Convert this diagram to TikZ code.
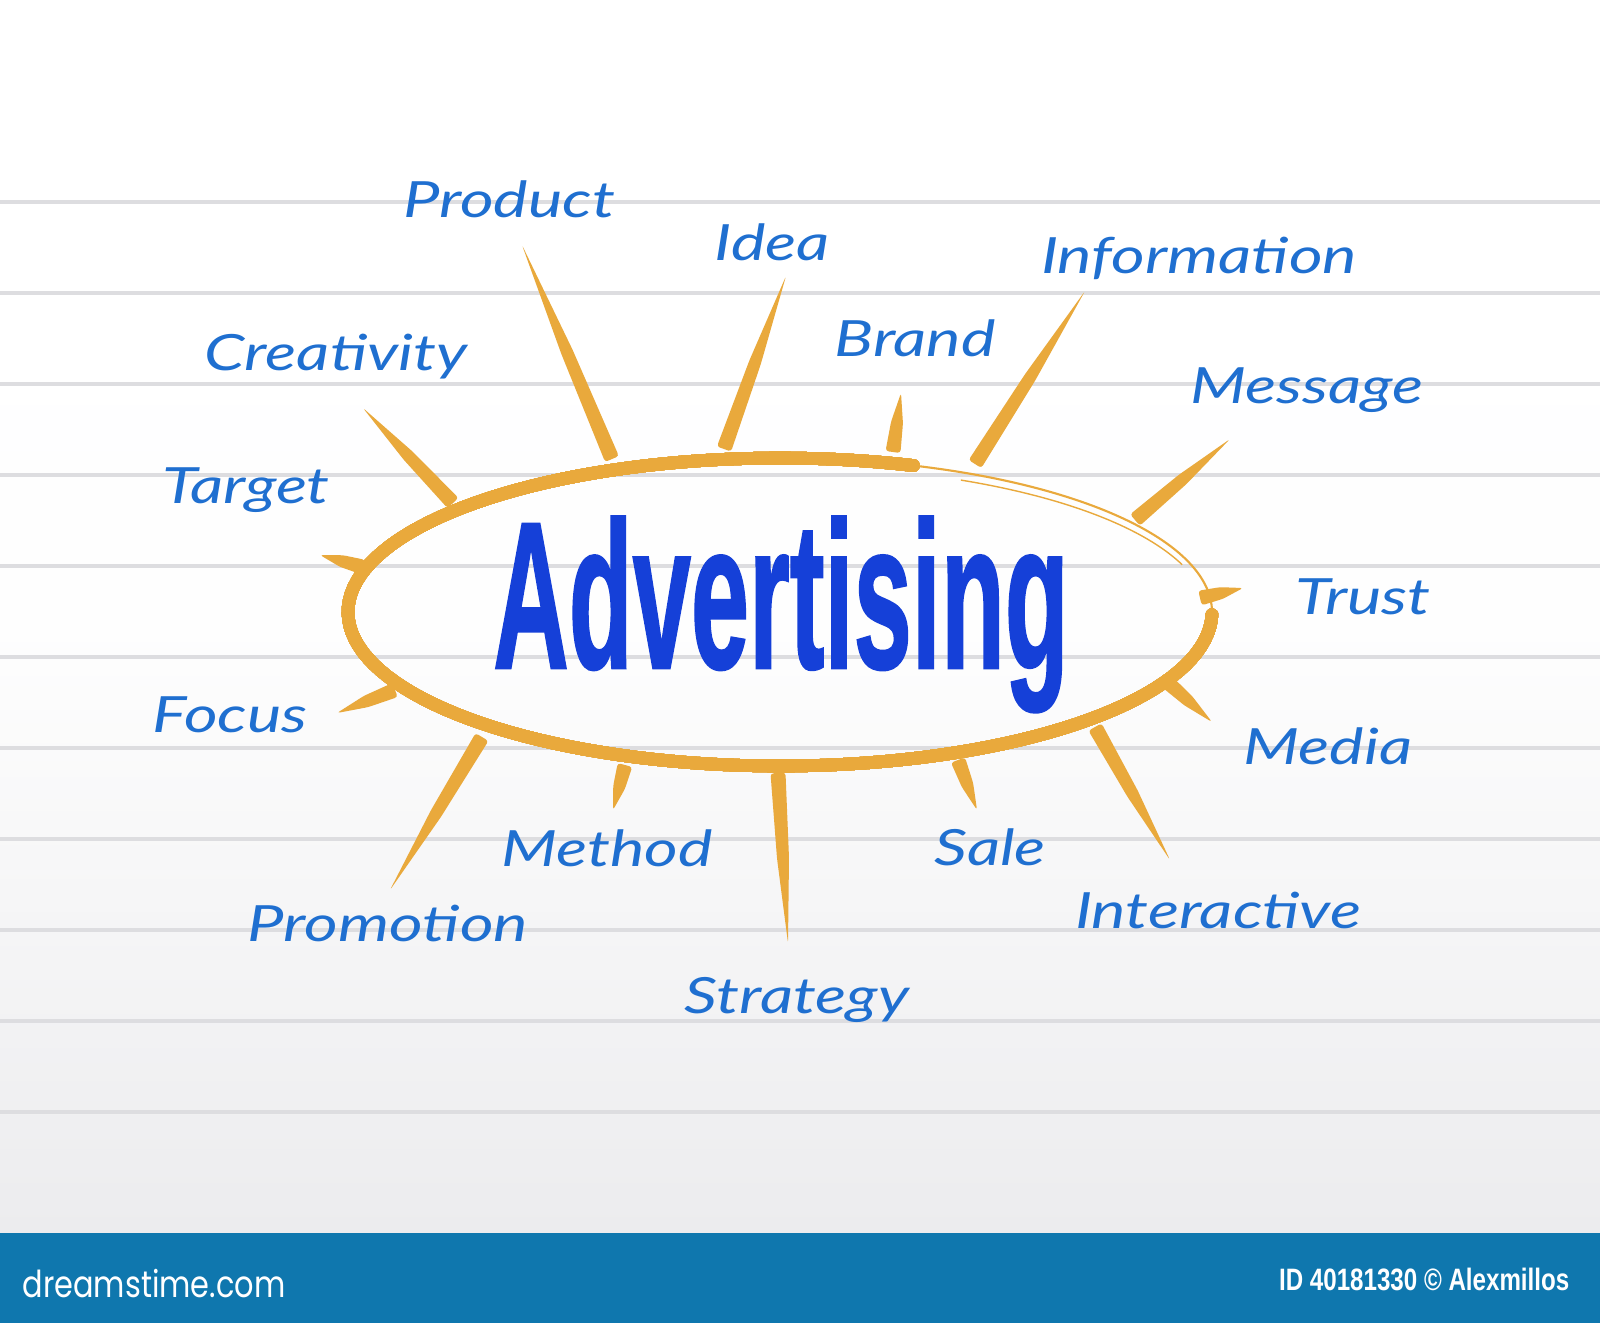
\documentclass[tikz,border=0pt]{standalone}
\usepackage{fontspec}
\usepackage{graphicx}
\usetikzlibrary{calc}
\setmainfont{Liberation Sans}
\newfontfamily\handfont{Lato}
\newfontfamily\advfont{Liberation Sans Bold}[FakeBold=1.3]
\newfontfamily\logofont{Poppins}
\definecolor{raycol}{HTML}{E9A93C}
\definecolor{labblue}{HTML}{1F6FD0}
\definecolor{advblue}{HTML}{1540D8}
\definecolor{barblue}{HTML}{0F77AE}
\definecolor{rulegray}{HTML}{DDDDE0}
\definecolor{bggray}{HTML}{ECECEE}
\newcommand\brush[2]{%
  \coordinate (bm) at ($(#1)!0.5!(#2)$);
  \fill[raycol, rounded corners=0.03cm]
    (#1) -- ($(bm)!0.06cm!90:(#1)$) -- ($(#2)!0.075cm!90:(#1)$)
    -- ($(#2)!0.075cm!-90:(#1)$) -- ($(bm)!0.06cm!-90:(#1)$) -- cycle;
}
\newcommand\hw[1]{\scalebox{1.3}[1]{#1}}
\begin{document}
\begin{tikzpicture}[x=0.01cm,y=-0.01cm,
  lab/.style={text=labblue, font=\handfont\itshape\fontsize{14.2pt}{17pt}\selectfont, inner sep=0pt},
  rulestyle/.style={draw=rulegray, line width=1.4pt}]
\useasboundingbox (0,0) rectangle (1600,1323);
\shade[top color=white, bottom color=bggray, middle color=white!96!bggray] (0,0) rectangle (1600,1233);
\foreach \yy in {202,293,384,475,566,657,748,839,930,1021,1112}
  \draw[rulestyle] (0,\yy) -- (1600,\yy);
% ray end points
\coordinate (rPo) at (522,245);  \coordinate (rPi) at (612,459);
\coordinate (rIo) at (786,276);  \coordinate (rIi) at (724,449);
\coordinate (rBo) at (901,393);  \coordinate (rBi) at (893,452);
\coordinate (rNo) at (1085,291); \coordinate (rNi) at (975,464);
\coordinate (rMo) at (1230,439); \coordinate (rMi) at (1135,520);
\coordinate (rCo) at (363,408);  \coordinate (rCi) at (453,503);
\coordinate (rTo) at (320,555);  \coordinate (rTi) at (363,567);
\coordinate (rUo) at (1243,588); \coordinate (rUi) at (1200,598);
\coordinate (rFo) at (337,713);  \coordinate (rFi) at (395,690);
\coordinate (rDo) at (1212,722); \coordinate (rDi) at (1165,680);
\coordinate (rRo) at (390,890);  \coordinate (rRi) at (482,737);
\coordinate (rEo) at (613,810);  \coordinate (rEi) at (625,765);
\coordinate (rSo) at (788,943);  \coordinate (rSi) at (778,773);
\coordinate (rAo) at (977,810);  \coordinate (rAi) at (958,760);
\coordinate (rXo) at (1170,860); \coordinate (rXi) at (1095,727);
\foreach \r in {P,I,B,N,M,C,T,U,F,D,R,E,S,A,X}
  \brush{r\r o}{r\r i}
% ellipse
\draw[raycol, line width=3.6pt, line cap=round]
  plot[domain=72:359, samples=120] ({780+432*cos(\x)}, {612-154*sin(\x)});
\draw[raycol, line width=0.6pt]
  plot[domain=-1:72, samples=60] ({780+432*cos(\x)}, {612-154*sin(\x)});
\draw[raycol, line width=0.4pt]
  plot[domain=20:65, samples=40] ({780+428*cos(\x)}, {616-150*sin(\x)});
% central word
\node[text=advblue, inner sep=0pt, anchor=base] (adv) at (781,668)
  {\scalebox{0.5}[1]{\advfont\fontsize{59.5pt}{60pt}\selectfont Advertising}};
% labels
\node[lab] (product) at (509,199) {\hw{Product}};
\node[lab] (idea) at (772,242) {\hw{Idea}};
\node[lab] (information) at (1199,258) {\hw{Information}};
\node[lab] (brand) at (915,338) {\hw{Brand}};
\node[lab] (creativity) at (336,357) {\hw{Creativity}};
\node[lab] (message) at (1307,390) {\hw{Message}};
\node[lab] (target) at (246,490) {\hw{Target}};
\node[lab] (trust) at (1363,597) {\hw{Trust}};
\node[lab] (focus) at (230,715) {\hw{Focus}};
\node[lab] (media) at (1328,746) {\hw{Media}};
\node[lab] (method) at (607,848) {\hw{Method}};
\node[lab] (sale) at (990,847) {\hw{Sale}};
\node[lab] (interactive) at (1218,910) {\hw{Interactive}};
\node[lab] (promotion) at (388,923) {\hw{Promotion}};
\node[lab] (strategy) at (797,1000) {\hw{Strategy}};
% bottom bar
\fill[barblue] (0,1233) rectangle (1600,1323);
\node[text=white, anchor=west, inner sep=0pt] (logo) at (22,1284)
  {\scalebox{0.9}[1.1]{\logofont\fontsize{9.6pt}{12pt}\selectfont dreamstime.com}};
\node[text=white, anchor=east, inner sep=0pt] (credit) at (1570,1279)
  {\scalebox{0.78}[1]{\bfseries\fontsize{8.8pt}{10pt}\selectfont ID 40181330 © Alexmillos}};
\end{tikzpicture}
\end{document}
